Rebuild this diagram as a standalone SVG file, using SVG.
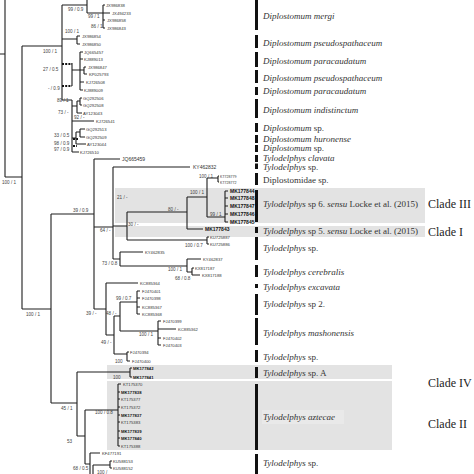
<svg xmlns="http://www.w3.org/2000/svg" width="474" height="474" viewBox="0 0 474 474">
<style>
.br{stroke:#1e1e1e;stroke-width:1.1;fill:none}
.thk{stroke:#111;stroke-width:2.2;stroke-dasharray:2 1.2;fill:none}
.bar{fill:#111}
.box{fill:#e3e3e3}
.tip{font-family:'Liberation Sans',Arial,sans-serif;font-size:5px;fill:#333}
.sm{font-size:4.2px}
.b{font-weight:bold;fill:#111}
.sup{font-family:'Liberation Sans',Arial,sans-serif;font-size:4.6px;fill:#444}
.sp{font-family:'Liberation Serif','Times New Roman',serif;font-size:9px;fill:#333}
.it{font-style:italic}
.clade{font-family:'Liberation Serif','Times New Roman',serif;font-size:12px;fill:#222}
</style>
<rect width="474" height="474" fill="#fff"/>
<g id="boxes">
<rect class="box" x="115" y="188" width="310" height="35"/>
<rect class="box" x="115" y="226" width="310" height="11"/>
<rect class="box" x="107" y="365" width="285" height="14"/>
<rect class="box" x="107" y="381" width="285" height="69"/>
<rect x="262" y="410" width="82" height="14" fill="#e9e9e9"/>
</g>
<g id="connectors">
<path class="br" d="M0 54H5M5 0V177M5 177H22M22 46V309M22 46H62M22 309H51"/>
<path class="br" d="M62 5V100M62 5H87M87 0V13M87 13H103M103 5V28M103 5H105M103 13H110M103 20H105M103 28H105M62 39H77M77 36V44M77 36H80M77 44H80"/>
<path class="thk" d="M62 64H72M62 86H72M73 139H78M73 146H77"/>
<path class="br" d="M72 63V86M72 70H80M80 52V90M80 52H83M80 59H83M80 82H84M80 90H83M80 70H84M84 67V74M84 67H86M84 74H87"/>
<path class="br" d="M62 100H72M72 100V152M72 106H77M77 101V113M77 101H80M80 98V105M80 98H82M80 105H82M77 113H82M72 121H94M72 138H76M76 132V144M76 132H80M80 129V137M80 129H85M80 137H85M76 144H86M72 152H79"/>
<path class="br" d="M51 214V403M51 214H94M94 159V309M94 159H120M94 227H113M113 167V259M113 167H190M113 226H127M127 212V240M127 212H187M187 197V229M187 197H207M207 178V217M207 178H218M218 176V182M218 176H219M218 182H219M207 217H225M225 191V222M225 191H228M225 198H228M225 206H228M225 214H228M225 222H228M187 229H203M127 240H207M207 237V244M207 237H209M207 244H209"/>
<path class="br" d="M113 259H120M120 252V266M120 252H143M120 266H187M187 259V272M187 259H201M187 272H192M192 268V275M192 268H194M192 275H200"/>
<path class="br" d="M94 309H106M106 283V335M106 283H138M106 335H114M114 316V354M114 316H120M120 302V331M120 302H137M137 291V314M137 291H140M137 298H140M137 307H140M137 314H140M120 331H158M158 321V345M158 321H161M158 329H176M158 338H161M158 345H161M114 354H127M127 352V361M127 352H129M127 361H130"/>
<path class="br" d="M51 403H77M77 372V436M77 372H130M130 368V377M130 368H132M130 377H132M77 436H85M85 410V464M85 410H118M118 384V446M118 384H121M118 392H120M118 399H120M118 407H120M118 415H120M118 422H120M118 431H120M118 438H120M118 446H120M85 464H90M90 453V474M90 453H100M93 465V474M93 465H110M110 461V468M110 461H112M110 468H112"/>
</g>
<g id="bars">
<rect class="bar" x="255" y="0" width="3" height="30"/>
<rect class="bar" x="255" y="35" width="3" height="13"/>
<rect class="bar" x="255" y="52" width="3" height="15"/>
<rect class="bar" x="255" y="70" width="3" height="13"/>
<rect class="bar" x="255" y="87" width="3" height="8"/>
<rect class="bar" x="255" y="99" width="3" height="19"/>
<rect class="bar" x="255" y="123" width="3" height="9"/>
<rect class="bar" x="255" y="135" width="3" height="8"/>
<rect class="bar" x="255" y="145" width="3" height="7"/>
<rect class="bar" x="255" y="155" width="3" height="7"/>
<rect class="bar" x="255" y="163.5" width="3" height="5.5"/>
<rect class="bar" x="255" y="173" width="3" height="12"/>
<rect class="bar" x="255" y="190" width="3" height="32"/>
<rect class="bar" x="255" y="227" width="3" height="6"/>
<rect class="bar" x="255" y="237" width="3" height="23"/>
<rect class="bar" x="255" y="265" width="3" height="12"/>
<rect class="bar" x="255" y="284" width="3" height="4"/>
<rect class="bar" x="255" y="294" width="3" height="21"/>
<rect class="bar" x="255" y="318" width="3" height="27"/>
<rect class="bar" x="255" y="350" width="3" height="12"/>
<rect class="bar" x="255" y="367" width="3" height="11"/>
<rect class="bar" x="255" y="384" width="3" height="66"/>
<rect class="bar" x="255" y="454" width="3" height="20"/>
</g>
<g id="taxa" class="sp">
<g id="s1"><text x="263" y="19"><tspan class="it">Diplostomum mergi</tspan></text></g>
<g id="s2"><text x="263" y="46"><tspan class="it">Diplostomum pseudospathaceum</tspan></text></g>
<g id="s3"><text x="263" y="64"><tspan class="it">Diplostomum paracaudatum</tspan></text></g>
<g id="s4"><text x="263" y="81"><tspan class="it">Diplostomum pseudospathaceum</tspan></text></g>
<g id="s5"><text x="263" y="94"><tspan class="it">Diplostomum paracaudatum</tspan></text></g>
<g id="s6"><text x="263" y="113"><tspan class="it">Diplostomum indistinctum</tspan></text></g>
<g id="s7"><text x="263" y="131"><tspan class="it">Diplostomum</tspan> sp.</text></g>
<g id="s8"><text x="263" y="142"><tspan class="it">Diplostomum huronense</tspan></text></g>
<g id="s9"><text x="263" y="151"><tspan class="it">Diplostomum</tspan> sp.</text></g>
<g id="s10"><text x="263" y="161"><tspan class="it">Tylodelphys clavata</tspan></text></g>
<g id="s11"><text x="263" y="170"><tspan class="it">Tylodelphys</tspan> sp.</text></g>
<g id="s12"><text x="263" y="183">Diplostomidae sp.</text></g>
<g id="s13"><text x="263" y="207"><tspan class="it">Tylodelphys</tspan> sp  6. <tspan class="it">sensu</tspan> Locke et al. (2015)</text></g>
<g id="s14"><text x="263" y="234"><tspan class="it">Tylodelphys</tspan> sp  5. <tspan class="it">sensu</tspan> Locke et al. (2015)</text></g>
<g id="s15"><text x="263" y="251"><tspan class="it">Tylodelphys</tspan> sp.</text></g>
<g id="s16"><text x="263" y="275"><tspan class="it">Tylodelphys cerebralis</tspan></text></g>
<g id="s17"><text x="263" y="290"><tspan class="it">Tylodelphys excavata</tspan></text></g>
<g id="s18"><text x="263" y="307"><tspan class="it">Tylodelphys</tspan> sp  2.</text></g>
<g id="s19"><text x="263" y="336"><tspan class="it">Tylodelphys mashonensis</tspan></text></g>
<g id="s20"><text x="263" y="360"><tspan class="it">Tylodelphys</tspan> sp.</text></g>
<g id="s21"><text x="263" y="376"><tspan class="it">Tylodelphys</tspan> sp. A</text></g>
<g id="s22"><text x="263" y="420"><tspan class="it">Tylodelphys aztecae</tspan></text></g>
<g id="s23"><text x="263" y="466"><tspan class="it">Tylodelphys</tspan> sp.</text></g>
</g>
<g id="clades" class="clade">
<g id="cladeIII"><text x="428" y="208">Clade III</text></g>
<g id="cladeI"><text x="428" y="236">Clade I</text></g>
<g id="cladeIV"><text x="428" y="387">Clade IV</text></g>
<g id="cladeII"><text x="428" y="428">Clade II</text></g>
</g>
<g id="tips" class="tip">
<g id="t1"><text class="sm" x="106" y="6.5">JX986838</text></g>
<g id="t2"><text class="sm" x="112" y="14.5">JX494233</text></g>
<g id="t3"><text class="sm" x="107" y="21.5">JX986858</text></g>
<g id="t4"><text class="sm" x="107" y="29.5">JX986843</text></g>
<g id="t5"><text class="sm" x="82" y="37.5">JX986854</text></g>
<g id="t6"><text class="sm" x="82" y="45.5">JX986850</text></g>
<g id="t7"><text class="sm" x="84" y="53.5">JQ665457</text></g>
<g id="t8"><text class="sm" x="84" y="60.5">KJ889013</text></g>
<g id="t9"><text class="sm" x="88" y="68.5">JX986847</text></g>
<g id="t10"><text class="sm" x="89" y="75.5">KP025793</text></g>
<g id="t11"><text class="sm" x="86" y="83.5">KJ726508</text></g>
<g id="t12"><text class="sm" x="84" y="91.5">KJ889009</text></g>
<g id="t13"><text class="sm" x="83" y="99.5">GQ292506</text></g>
<g id="t14"><text class="sm" x="83" y="106.5">GQ292508</text></g>
<g id="t15"><text class="sm" x="83" y="114.5">AY123043</text></g>
<g id="t16"><text class="sm" x="96" y="122.5">KJ726541</text></g>
<g id="t17"><text class="sm" x="86" y="130.5">GQ292513</text></g>
<g id="t18"><text class="sm" x="86" y="138.5">GQ292509</text></g>
<g id="t19"><text class="sm" x="87" y="145.5">AY123044</text></g>
<g id="t20"><text class="sm" x="80" y="153.5">KJ726510</text></g>
<g id="t21"><text x="122" y="160.8">JQ665459</text></g>
<g id="t22"><text x="193" y="168.8">KY462832</text></g>
<g id="t23"><text class="sm" x="220" y="177.5" style="font-size:3.6px">KT728779</text></g>
<g id="t24"><text class="sm" x="220" y="183.5" style="font-size:3.6px">KT728772</text></g>
<g id="t25"><text class="b" x="230" y="192.8">MK177844</text></g>
<g id="t26"><text class="b" x="230" y="199.8">MK177848</text></g>
<g id="t27"><text class="b" x="230" y="207.8">MK177847</text></g>
<g id="t28"><text class="b" x="230" y="215.8">MK177846</text></g>
<g id="t29"><text class="b" x="230" y="223.8">MK177845</text></g>
<g id="t30"><text class="b" x="205" y="230.8">MK177843</text></g>
<g id="t31"><text class="sm" x="210" y="238.5">KU725887</text></g>
<g id="t32"><text class="sm" x="210" y="245.5">KU725886</text></g>
<g id="t33"><text class="sm" x="145" y="253.5">KY462835</text></g>
<g id="t34"><text class="sm" x="203" y="260.5">KY462837</text></g>
<g id="t35"><text class="sm" x="195" y="269.5">KX817187</text></g>
<g id="t36"><text class="sm" x="202" y="276.5">KX817188</text></g>
<g id="t37"><text class="sm" x="140" y="284.5">KC885364</text></g>
<g id="t38"><text class="sm" x="142" y="292.5">FJ470401</text></g>
<g id="t39"><text class="sm" x="142" y="299.5">FJ470398</text></g>
<g id="t40"><text class="sm" x="142" y="308.5">KC885367</text></g>
<g id="t41"><text class="sm" x="142" y="315.5">KC885368</text></g>
<g id="t42"><text class="sm" x="163" y="322.5">FJ470399</text></g>
<g id="t43"><text class="sm" x="178" y="330.5">KC885362</text></g>
<g id="t44"><text class="sm" x="163" y="339.5">FJ470402</text></g>
<g id="t45"><text class="sm" x="163" y="346.5">FJ470403</text></g>
<g id="t46"><text class="sm" x="130" y="353.5">FJ470394</text></g>
<g id="t47"><text class="sm" x="132" y="362.5">FJ470400</text></g>
<g id="t48"><text class="b sm" x="133" y="369.5">MK177842</text></g>
<g id="t49"><text class="b sm" x="133" y="378.5">MK177841</text></g>
<g id="t50"><text class="sm" x="123" y="385.5">KT175370</text></g>
<g id="t51"><text class="b sm" x="121" y="393.5">MK177838</text></g>
<g id="t52"><text class="sm" x="121" y="400.5">KT175377</text></g>
<g id="t53"><text class="sm" x="121" y="408.5">KT175372</text></g>
<g id="t54"><text class="b sm" x="121" y="416.5">MK177837</text></g>
<g id="t55"><text class="sm" x="121" y="423.5">KT175383</text></g>
<g id="t56"><text class="b sm" x="121" y="432.5">MK177839</text></g>
<g id="t57"><text class="b sm" x="121" y="439.5">MK177840</text></g>
<g id="t58"><text class="sm" x="121" y="447.5">KT175388</text></g>
<g id="t59"><text class="sm" x="102" y="454.5">KF477191</text></g>
<g id="t60"><text class="sm" x="113" y="462.5">KU588153</text></g>
<g id="t61"><text class="sm" x="113" y="469.5">KU588152</text></g>
</g>
<g id="support" class="sup">
<text x="2" y="184">100 / 1</text>
<text x="43" y="53">100 / 1</text>
<text x="26" y="316">100 / 1</text>
<text x="68" y="11">99 / 0.9</text>
<text x="88" y="18">99 / 1</text>
<text x="91" y="28">86 / 1</text>
<text x="65" y="33">100 / 1</text>
<text x="43" y="71">27 / 0.5</text>
<text x="48" y="90">- / 0.9</text>
<text x="57" y="102">89 / 1</text>
<text x="58" y="114">73 / -</text>
<text x="74" y="119">92 / -</text>
<text x="54" y="137">33 / 0.5</text>
<text x="54" y="145">98 / 0.9</text>
<text x="54" y="151">97 / 0.9</text>
<text x="73" y="212">39 / 0.9</text>
<text x="117" y="199">21 / -</text>
<text x="100" y="232">64 / -</text>
<text x="128" y="226">30 / -</text>
<text x="168" y="211">80 / -</text>
<text x="190" y="194">100 / 1</text>
<text x="199" y="178">100 / 1</text>
<text x="210" y="216">99 / 1</text>
<text x="185" y="247">100 / 0.7</text>
<text x="102" y="265">73 / 0.8</text>
<text x="168" y="271">100 / 1</text>
<text x="175" y="280">68 / 0.8</text>
<text x="86" y="315">39 / -</text>
<text x="106" y="315">48 / -</text>
<text x="116" y="300">99 / 0.7</text>
<text x="139" y="336">100 / 1</text>
<text x="101" y="344">49 / -</text>
<text x="115" y="363">100</text>
<text x="113" y="379">100</text>
<text x="61" y="410">45 / 1</text>
<text x="95" y="414">100 / 0.8</text>
<text x="67" y="443">53</text>
<text x="73" y="470">68 / 0.5</text>
<text x="97" y="474">100 /</text>
</g>
</svg>
